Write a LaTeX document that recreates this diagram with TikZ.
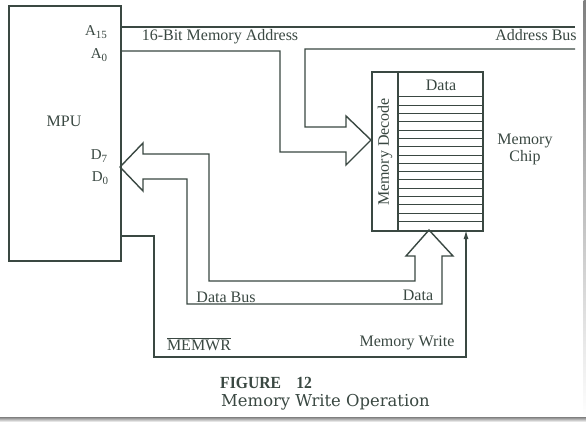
\documentclass[tikz,border=0pt]{standalone}
\usepackage{fontspec}
\setmainfont{Liberation Serif}
\newfontfamily\capfont{DejaVu Serif}
\newfontfamily\figfont[FakeStretch=0.92]{Liberation Serif}
\usetikzlibrary{arrows.meta}
\definecolor{ink}{RGB}{58,72,66}
\definecolor{shade}{RGB}{90,90,90}
\newcommand{\subnum}[1]{\raisebox{-3.5pt}{\fontsize{11}{11}\selectfont #1}}
\begin{document}
\begin{tikzpicture}[x=1pt,y=-1pt,
  wire/.style={draw=ink, line width=1.4pt, line join=miter},
  box/.style={draw=ink, line width=1.6pt, inner sep=0pt, anchor=north west},
  lbl/.style={text=ink, inner sep=0pt, font=\fontsize{16}{18}\selectfont},
  pin/.style={text=ink, inner sep=0pt, font=\fontsize{15}{17}\selectfont}]
\useasboundingbox (0,0) rectangle (586,422);
\fill[white] (0,0) rectangle (586,422);
% scan shadow edges
\fill[shade] (583.5,0) rectangle (586,417);
\fill[shade] (0,417) rectangle (586,422);

% MPU
\node[box, minimum width=112pt, minimum height=255pt] (mpu) at (8,5) {};
\node[lbl] (mpulbl) at (64,121) {MPU};
\node[pin] (a15) at (96,32) {A\subnum{15}};
\node[pin] (a0) at (99,55) {A\subnum{0}};
\node[pin] (d7) at (99,156) {D\subnum{7}};
\node[pin] (d0) at (100,178) {D\subnum{0}};

% Memory chip
\node[box, minimum width=111pt, minimum height=159pt] (chip) at (371,71) {};
\draw[wire] (398,71) -- (398,230);
\foreach \k in {0,...,15}{
  \draw[draw=ink, line width=1pt] (398,{97+\k*8.3}) -- (482,{97+\k*8.3});
}
\node[lbl] (datahdr) at (441,85) {Data};
\node[lbl, rotate=90] (decode) at (385,152) {Memory Decode};
\node[lbl, align=center] (chiplbl) at (525,149) {Memory\\[-1pt]Chip};

% Address bus
\coordinate (ab1) at (120,27);
\coordinate (ab2) at (575,27);
\draw[wire] (ab1) -- (ab2);
\coordinate (tipA) at (371,140);
\draw[wire] (120,51) -- (280,51) -- (280,152) -- (346,152) -- (346,165)
  -- (tipA) -- (346,116) -- (346,127) -- (305,127) -- (305,49) -- (575,49);
\node[lbl] (addrlbl) at (220,37) {16-Bit Memory Address};
\node[lbl] (abuslbl) at (536,35) {Address Bus};

% Data bus (double-headed wide bus)
\coordinate (tipD) at (120,167);
\coordinate (tipC) at (429,230);
\draw[wire] (tipD) -- (143,143) -- (143,154) -- (209,154) -- (209,281)
  -- (415,281) -- (415,256) -- (406,256) -- (tipC) -- (453,256) -- (442,256)
  -- (442,304) -- (187,304) -- (187,179) -- (143,179) -- (143,191) -- cycle;
\node[lbl] (dbuslbl) at (226,297) {Data Bus};
\node[lbl] (datalbl) at (418,295) {Data};

% Memory write
\coordinate (mw0) at (120,236);
\coordinate (mw1) at (466,230);
\draw[wire, -{Latex[length=9pt,width=5pt]}] (mw0) -- (154,236) -- (154,357) -- (466,357) -- (mw1);
\node[lbl] (memwr) at (199,344) {$\overline{\mbox{MEMWR}}$};
\node[lbl] (mwlbl) at (407,343) {Memory Write};

% Caption
\node[text=ink, inner sep=0pt, anchor=base west, font=\figfont\bfseries\fontsize{17}{19}\selectfont] (fig) at (220,388) {FIGURE\hspace{0.9em}12};
\node[text=ink, inner sep=0pt, anchor=base west, font=\capfont\fontsize{16.4}{18}\selectfont] (cap) at (221,406) {Memory Write Operation};
\end{tikzpicture}
\end{document}
